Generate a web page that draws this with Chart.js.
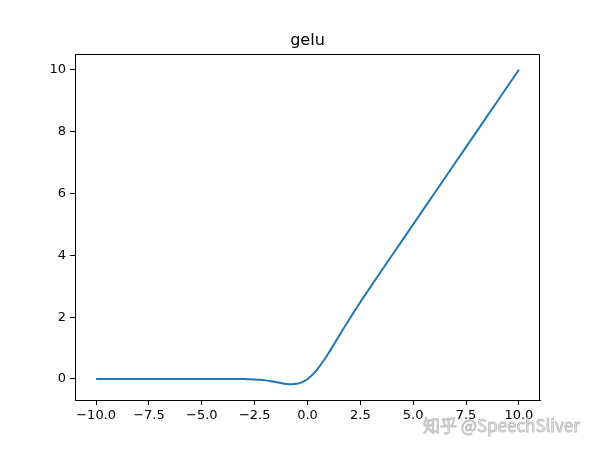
<!DOCTYPE html>
<html>
<head>
<meta charset="utf-8">
<script src="https://cdn.jsdelivr.net/npm/chart.js@4/dist/chart.umd.min.js"></script>
<style>
  html, body { margin: 0; padding: 0; background: #fff; }
  #wrap { width: 600px; height: 450px; }
</style>
</head>
<body>
<div id="wrap"><canvas id="geluChart" width="600" height="450"></canvas></div>
<script>
// values
var xs = [-10, -9, -8, -7, -6, -5, -4, -3.5, -3, -2.75, -2.5, -2.25, -2, -1.75, -1.5, -1.25, -1, -0.75, -0.5, -0.25,
          0, 0.25, 0.5, 0.75, 1, 1.25, 1.5, 1.75, 2, 2.25, 2.5, 2.75, 3, 3.5, 4, 5, 6, 7, 8, 9, 10];
var ys = [0, 0, 0, 0, 0, 0, -0.0001, -0.0008, -0.004, -0.008, -0.0155, -0.027, -0.0455, -0.070, -0.100, -0.132, -0.159, -0.170, -0.154, -0.100,
          0, 0.150, 0.346, 0.580, 0.841, 1.118, 1.400, 1.680, 1.955, 2.223, 2.484, 2.742, 2.996, 3.499, 4.0, 5, 6, 7, 8, 9, 10];
var xTicks = [-10, -7.5, -5, -2.5, 0, 2.5, 5, 7.5, 10];
var yTicks = [0, 2, 4, 6, 8, 10];

var points = xs.map(function (x, i) { return { x: x, y: ys[i] }; });

function fmtMinus(s) { return s.replace('-', '\u2212'); }

// title centred over the axes box, plus the site watermark
var decorations = {
  id: 'decorations',
  afterDraw: function (chart) {
    var a = chart.chartArea, c = chart.ctx;
    c.save();
    c.fillStyle = '#000';
    c.font = '16px "DejaVu Sans", sans-serif';
    c.textAlign = 'center';
    c.textBaseline = 'alphabetic';
    c.fillText('gelu', (a.left + a.right) / 2, 45);

    c.font = '17px "Noto Sans CJK SC", "DejaVu Sans", sans-serif';
    c.textAlign = 'left';
    c.textBaseline = 'middle';
    c.lineWidth = 1;
    c.strokeStyle = 'rgba(175,175,175,0.75)';
    c.fillStyle = 'rgba(240,240,240,0.8)';
    c.fillText('知乎 @SpeechSliver', 423, 426);
    c.strokeText('知乎 @SpeechSliver', 423, 426);
    c.restore();
  }
};

var ctx = document.getElementById('geluChart').getContext('2d');
var geluChart = new Chart(ctx, {
  type: 'line',
  data: {
    datasets: [{
      label: 'gelu',
      data: points,
      borderColor: '#1f77b4',
      borderWidth: 2,
      pointRadius: 0,
      fill: false,
      tension: 0.3
    }]
  },
  options: {
    responsive: false,
    animation: false,
    layout: { padding: { left: 0, right: 60, top: 54, bottom: 0 } },
    plugins: {
      legend: { display: false },
      tooltip: { enabled: false },
      title: { display: false }
    },
    scales: {
      x: {
        type: 'linear',
        min: -11,
        max: 11,
        afterBuildTicks: function (axis) {
          axis.ticks = xTicks.map(function (v) { return { value: v }; });
        },
        afterFit: function (axis) { axis.height = 50; },
        ticks: {
          color: '#000',
          font: { family: 'DejaVu Sans', size: 13 },
          padding: 3,
          maxRotation: 0,
          callback: function (v) { return fmtMinus(v.toFixed(1)); }
        },
        grid: { drawOnChartArea: false, drawTicks: true, tickLength: 5, tickColor: '#000' },
        border: { display: true, color: '#000', width: 1 }
      },
      y: {
        type: 'linear',
        min: -0.68,
        max: 10.51,
        afterBuildTicks: function (axis) {
          axis.ticks = yTicks.map(function (v) { return { value: v }; });
        },
        afterFit: function (axis) { axis.width = 75; },
        ticks: {
          color: '#000',
          font: { family: 'DejaVu Sans', size: 13 },
          padding: 4,
          callback: function (v) { return fmtMinus(String(v)); }
        },
        grid: { drawOnChartArea: false, drawTicks: true, tickLength: 5, tickColor: '#000' },
        border: { display: true, color: '#000', width: 1 }
      }
    }
  },
  plugins: [decorations, {
    id: 'frame',
    afterDatasetsDraw: function (chart) {
      var a = chart.chartArea, c = chart.ctx;
      c.save();
      c.strokeStyle = '#000';
      c.lineWidth = 1;
      c.beginPath();
      c.moveTo(a.left, a.top + 0.5);
      c.lineTo(a.right - 0.5, a.top + 0.5);
      c.lineTo(a.right - 0.5, a.bottom);
      c.stroke();
      c.restore();
    }
  }]
});
</script>
</body>
</html>
